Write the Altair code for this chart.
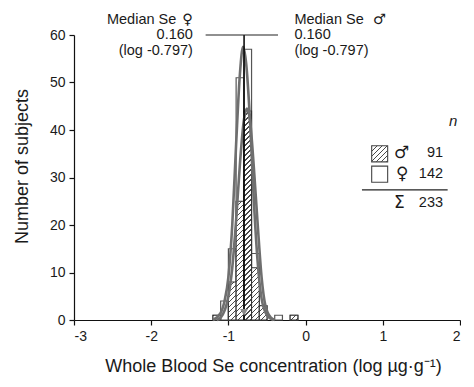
import math
import altair as alt
import pandas as pd

# ---------------- data ----------------
bin_left = [-1.2, -1.1, -1.0, -0.9, -0.8, -0.7, -0.6, -0.5, -0.4, -0.3, -0.2]
female_counts = [1, 4, 15, 51, 57, 14, 3, 0, 1, 0, 1]
male_counts = [1, 0, 8, 25, 44, 11, 3, 0, 0, 0, 1]
bin_width = 0.1

female_curve_x = [-1.20, -1.10, -1.05, -1.00, -0.95, -0.90, -0.85, -0.81, -0.77, -0.72, -0.67, -0.62, -0.57, -0.50, -0.42]
female_curve_y = [0.0, 1.5, 4.0, 9.0, 20.0, 37.0, 52.0, 57.5, 54.0, 42.0, 25.0, 12.0, 4.5, 1.0, 0.0]
male_curve_x = [-1.15, -1.10, -1.00, -0.95, -0.90, -0.85, -0.80, -0.76, -0.72, -0.67, -0.62, -0.57, -0.52, -0.45, -0.40]
male_curve_y = [0.0, 0.5, 5.0, 11.0, 21.0, 33.0, 42.0, 44.5, 42.0, 32.0, 20.0, 9.0, 3.0, 0.5, 0.0]

median_log = -0.797
median_word = "Median Se"
median_left_symbol = "♀"
median_right_symbol = "♂"
median_value_text = ["0.160", "(log -0.797)"]
median_text_y = [63.2, 60.1, 56.6]
median_left_x = -1.46
median_left_word_x = -1.675
median_right_x = -0.145
median_right_symbol_x = 0.873
median_bar_x = [-1.295, -0.357]
median_bar_y = 60

legend_symbols = ["♂", "♀"]
legend_counts = ["91", "142"]
legend_total = "233"

x_ticks = [-3, -2, -1, 0, 1, 2]
y_ticks = [0, 10, 20, 30, 40, 50, 60]
x_title = "Whole Blood Se concentration (log µg·g⁻¹)"
y_title = "Number of subjects"

# ---------------- layout ----------------
W, H = 386, 285
XD = [-3, 2]
YD = [0, 60]
px_x = W / (XD[1] - XD[0])
px_y = H / (YD[1] - YD[0])
FONT = "Liberation Sans"
SYMFONT = "DejaVu Sans"
TXT = "#1a1a1a"

xs = alt.Scale(domain=XD, nice=False, zero=False)
ys = alt.Scale(domain=YD, nice=False, zero=False)
x_axis = alt.Axis(values=x_ticks, title=x_title, labelExpr="'' + datum.value", titleX=W / 2 + 6)
y_axis = alt.Axis(values=y_ticks, title=y_title, labelExpr="'' + datum.value", titleY=131)


def X(field):
    return alt.X(field, type="quantitative", scale=xs, axis=x_axis)


def Y(field):
    return alt.Y(field, type="quantitative", scale=ys, axis=y_axis)


def hatch(w, h, period=5.0, line=1.5, color="#4a4a4a", bg="white"):
    tot = w + h
    k = tot / (w * w + h * h)
    a, b = w * k, h * k
    stops = []
    n = int(math.ceil(tot / period))
    for i in range(n):
        t0 = min(1.0, i * period / tot)
        t1 = min(1.0, (i * period + line) / tot)
        t2 = min(1.0, (i + 1) * period / tot)
        stops += [alt.GradientStop(offset=t0, color=color),
                  alt.GradientStop(offset=t1, color=color),
                  alt.GradientStop(offset=t1, color=bg),
                  alt.GradientStop(offset=t2, color=bg)]
    return alt.LinearGradient(gradient="linear", x1=0, y1=0, x2=a, y2=b, stops=stops)


def text_layer(df, align, font=FONT, size=14.5, style="normal"):
    return alt.Chart(df).mark_text(
        align=align, baseline="middle", font=font, fontSize=size, fontStyle=style, color=TXT
    ).encode(x=X("x"), y=Y("y"), text="t:N")


bars = pd.DataFrame({
    "x": bin_left,
    "x2": [v + bin_width for v in bin_left],
    "f": female_counts,
    "m": male_counts,
    "y0": [0] * len(bin_left),
})

layers = [
    alt.Chart(bars[bars.f > 0]).mark_rect(fill="white", stroke="#555555", strokeWidth=1.2)
    .encode(x=X("x"), x2="x2", y=Y("f"), y2="y0")
]

for _, r in bars[bars.m > 0].iterrows():
    grad = hatch(bin_width * px_x, r["m"] * px_y)
    layers.append(
        alt.Chart(pd.DataFrame([r])).mark_rect(fill=grad, stroke="#333333", strokeWidth=1.1)
        .encode(x=X("x"), x2="x2", y=Y("m"), y2="y0")
    )

curves = pd.concat([
    pd.DataFrame({"x": female_curve_x, "y": female_curve_y, "s": "F"}),
    pd.DataFrame({"x": male_curve_x, "y": male_curve_y, "s": "M"}),
])
layers.append(
    alt.Chart(curves).mark_line(color="#6f6f6f", strokeWidth=2.6, interpolate="monotone")
    .encode(x=X("x"), y=Y("y"), detail="s:N")
)

med = pd.DataFrame({"x": [median_log], "y": [0], "y2": [median_bar_y]})
layers.append(alt.Chart(med).mark_rule(color="black", strokeWidth=1.5).encode(x=X("x"), y=Y("y"), y2="y2"))
layers.append(
    alt.Chart(pd.DataFrame({"x": [median_log], "y": [1.6]}))
    .mark_point(shape="triangle-down", filled=True, color="#8a8a8a", size=60, opacity=1)
    .encode(x=X("x"), y=Y("y"))
)
hbar = pd.DataFrame({"x": [median_bar_x[0]], "x2": [median_bar_x[1]], "y": [median_bar_y]})
layers.append(alt.Chart(hbar).mark_rule(color="#222222", strokeWidth=1.1).encode(x=X("x"), x2="x2", y=Y("y")))

# median annotations
layers.append(text_layer(pd.DataFrame({"x": [median_left_word_x], "y": [median_text_y[0]], "t": [median_word]}), "right"))
layers.append(text_layer(pd.DataFrame({"x": [median_left_x], "y": [median_text_y[0]], "t": [median_left_symbol]}), "right", SYMFONT, 14.5))
layers.append(text_layer(pd.DataFrame({"x": [median_left_x] * 2, "y": median_text_y[1:], "t": median_value_text}), "right"))
layers.append(text_layer(pd.DataFrame({"x": [median_right_x], "y": [median_text_y[0]], "t": [median_word]}), "left"))
layers.append(text_layer(pd.DataFrame({"x": [median_right_symbol_x], "y": [median_text_y[0]], "t": [median_right_symbol]}), "left", SYMFONT, 14.5))
layers.append(text_layer(pd.DataFrame({"x": [median_right_x] * 2, "y": median_text_y[1:], "t": median_value_text}), "left"))

# ---------------- in-plot legend ----------------
sw_x = [0.856, 1.063]
male_sw = pd.DataFrame({"x": [sw_x[0]], "x2": [sw_x[1]], "y": [33.3], "y2": [36.7]})
fem_sw = pd.DataFrame({"x": [sw_x[0]], "x2": [sw_x[1]], "y": [29.0], "y2": [32.4]})
layers.append(alt.Chart(male_sw).mark_rect(fill=hatch((sw_x[1] - sw_x[0]) * px_x, 3.4 * px_y), stroke="#444444", strokeWidth=1.1)
              .encode(x=X("x"), x2="x2", y=Y("y"), y2="y2"))
layers.append(alt.Chart(fem_sw).mark_rect(fill="white", stroke="#444444", strokeWidth=1.1)
              .encode(x=X("x"), x2="x2", y=Y("y"), y2="y2"))

layers.append(text_layer(pd.DataFrame({"x": [1.245, 1.25, 1.215], "y": [35.1, 30.8, 24.7],
                                       "t": legend_symbols + ["Σ"]}), "center", SYMFONT, 17))
layers.append(text_layer(pd.DataFrame({"x": [1.78] * 3, "y": [35.1, 30.8, 24.7],
                                       "t": legend_counts + [legend_total]}), "right"))
layers.append(text_layer(pd.DataFrame({"x": [1.913], "y": [41.9], "t": ["n"]}), "center", FONT, 15, "italic"))
sep = pd.DataFrame({"x": [0.73], "x2": [1.84], "y": [27.4]})
layers.append(alt.Chart(sep).mark_rule(color="#222222", strokeWidth=1.1).encode(x=X("x"), x2="x2", y=Y("y")))

chart = alt.layer(*layers).properties(
    width=W, height=H, padding={"left": 5, "top": 3, "right": 0, "bottom": 5}
).configure_view(stroke=None).configure_axis(
    grid=False,
    domainColor="#111111", domainWidth=1.2,
    tickColor="#111111", tickSize=5, tickWidth=1.2,
    labelFont=FONT, labelFontSize=14, labelColor=TXT, labelPadding=4,
    titleFont=FONT, titleFontSize=18, titleFontWeight="normal", titleColor=TXT,
).configure_axisX(titlePadding=14).configure_axisY(titlePadding=17.7)

chart.save("out.html", embed_options={"renderer": "svg", "actions": False})
